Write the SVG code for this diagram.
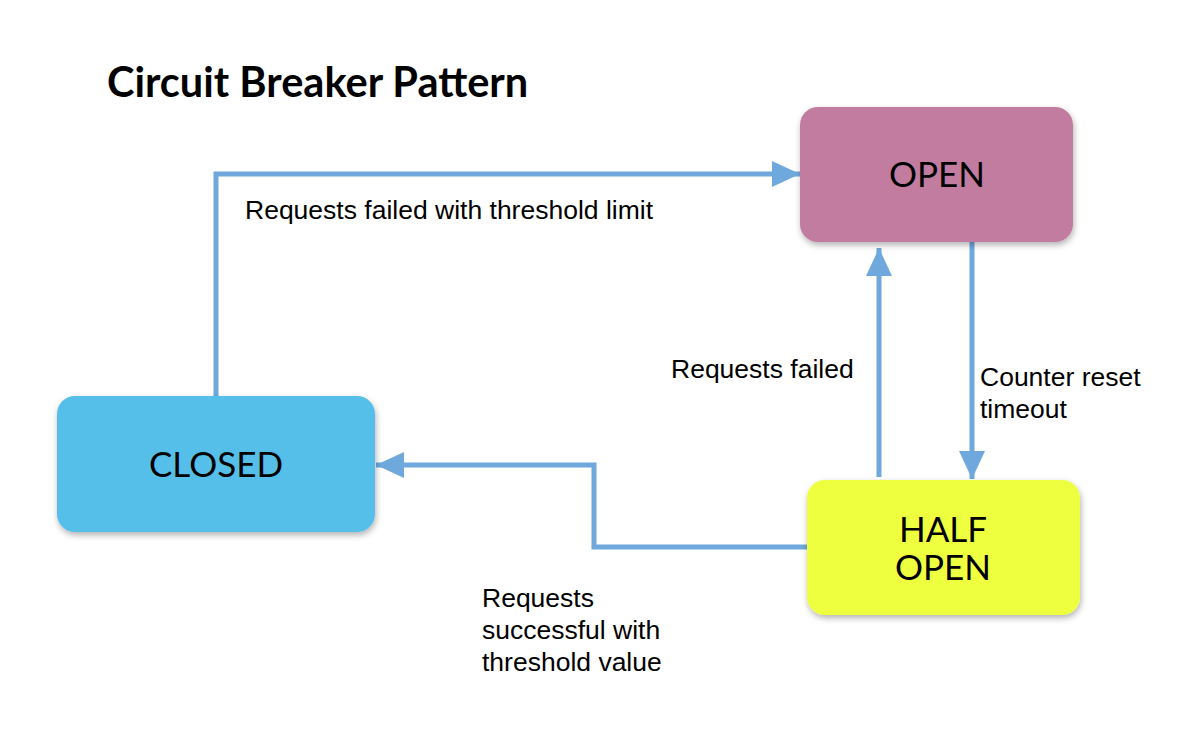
<svg xmlns="http://www.w3.org/2000/svg" width="1200" height="741" viewBox="0 0 1200 741">
<style>
.box{stroke:none;filter:url(#sh)}
.nt{font-family:Lato,"Liberation Sans",sans-serif;font-size:35px;fill:#000;text-anchor:middle}
.lb{font-family:"Liberation Sans",Arial,sans-serif;font-size:26.5px;fill:#000}
.c{fill:none;stroke:#6fa8dc;stroke-width:5}
</style>
<defs>
<filter id="sh" x="-10%" y="-10%" width="130%" height="130%"><feDropShadow dx="1" dy="3" stdDeviation="3" flood-color="#000" flood-opacity="0.3"/></filter>
<marker id="ah" markerUnits="userSpaceOnUse" markerWidth="30" markerHeight="26" refX="28" refY="13" orient="auto"><path d="M0,0 L28,13 L0,26 z" fill="#6fa8dc"/></marker>
</defs>
<rect width="1200" height="741" fill="#fff"/>
<text x="107" y="97" font-family="Lato,'Liberation Sans',sans-serif" font-weight="bold" font-size="41.5" fill="#000">Circuit Breaker Pattern</text>
<g id="connectors">
<path class="c" d="M216,396 V174 H800" marker-end="url(#ah)"/>
<path class="c" d="M879,477 V248" marker-end="url(#ah)"/>
<path class="c" d="M972,242 V479" marker-end="url(#ah)"/>
<path class="c" d="M807,547 H594 V465 H376" marker-end="url(#ah)"/>
</g>
<g id="open"><rect class="box" x="800" y="107" width="273" height="135" rx="18" fill="#c27ba0"/><text class="nt" x="937" y="187">OPEN</text></g>
<g id="closed"><rect class="box" x="57" y="396" width="318" height="136" rx="18" fill="#56bfe9"/><text class="nt" x="216" y="477">CLOSED</text></g>
<g id="halfopen"><rect class="box" x="807" y="480" width="273" height="135" rx="18" fill="#eeff41"/><text class="nt" x="943" y="542">HALF</text><text class="nt" x="943" y="580">OPEN</text></g>
<g id="labels">
<text class="lb" x="245" y="219">Requests failed with threshold limit</text>
<text class="lb" x="671" y="378">Requests failed</text>
<text class="lb" x="980" y="386">Counter reset</text>
<text class="lb" x="980" y="418">timeout</text>
<text class="lb" x="482" y="607">Requests</text>
<text class="lb" x="482" y="639">successful with</text>
<text class="lb" x="482" y="671">threshold value</text>
</g>
</svg>
